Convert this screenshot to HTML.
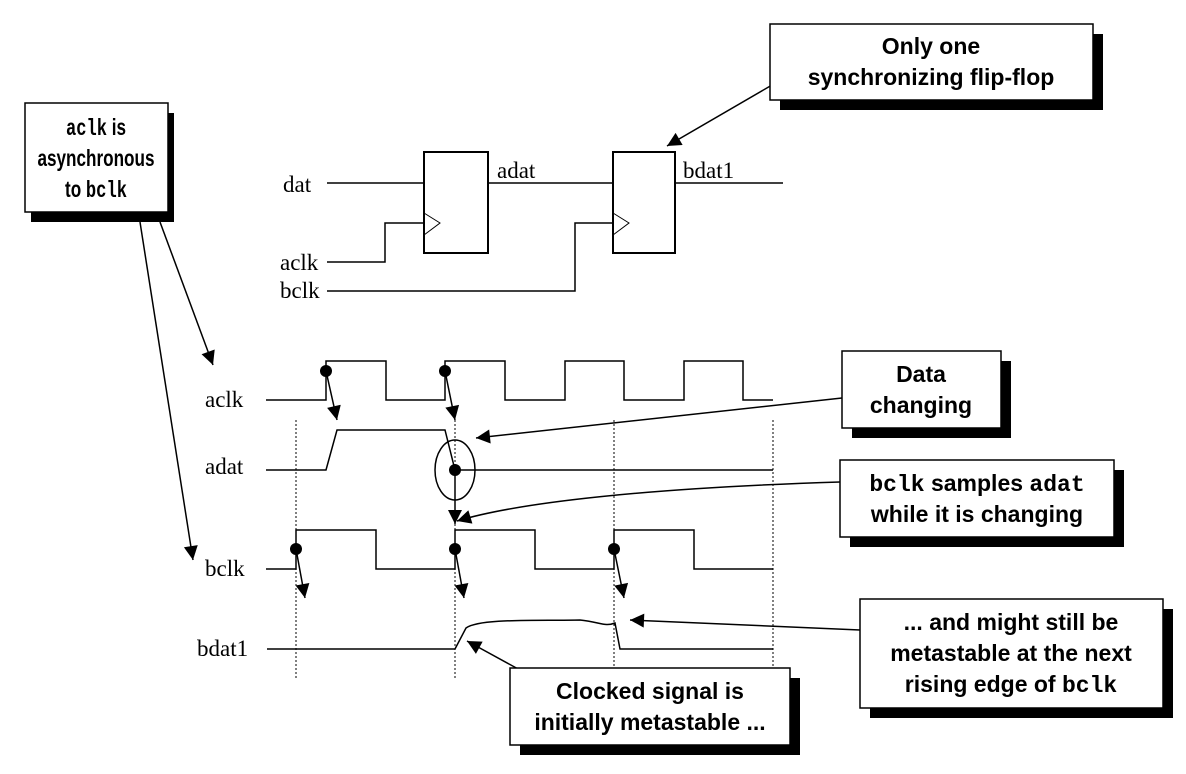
<!DOCTYPE html>
<html><head><style>body{margin:0;background:#fff}svg{display:block}
.b{font-family:"Liberation Sans",sans-serif;font-weight:bold;font-size:23px}
.m{font-family:"Liberation Mono",monospace;font-weight:bold}
.s{font-family:"Liberation Serif",serif;font-size:23px}</style></head><body>
<svg width="1186" height="774" viewBox="0 0 1186 774" xmlns="http://www.w3.org/2000/svg">
<defs><marker id="a2" viewBox="0 0 10 10" refX="10" refY="5" markerWidth="17" markerHeight="14" markerUnits="userSpaceOnUse" orient="auto"><path d="M0,0L10,5L0,10z" fill="#000"/></marker></defs>
<g fill="none" stroke="#000" stroke-width="1.5">
<rect x="424" y="152" width="64" height="101" stroke-width="2"/>
<rect x="613" y="152" width="62" height="101" stroke-width="2"/>
<path d="M424,213L440,223L424,235M613,213L629,223L613,235" stroke-width="1"/>
<path d="M327,183H424M488,183H613M675,183H783M327,262H385V223H424M327,291H575V223H613"/>
<path d="M266,400H326V361H386V400H445V361H505V400H565V361H624V400H684V361H743V400H773"/>
<path d="M266,470H326L337,430H445L455,470H773"/>
<path d="M266,569H296V530H376V569H455V530H535V569H614V530H694V569H773"/>
<path d="M267,649H455L466,628C480,618 540,621 580,620C600,622 605,627 615,623L620,649H773"/>
<g stroke-width="1" stroke-dasharray="2,2"><path d="M296,420V678M455,420V678M614,420V678M773,420V678"/></g>
<ellipse cx="455" cy="470" rx="20" ry="30" stroke-width="1.5"/>
<g stroke-width="1.5" marker-end="url(#a2)">
<path d="M326,371L337,420"/><path d="M445,371L455,420"/><path d="M455,470V524"/>
<path d="M296,549L305,598"/><path d="M455,549L464,598"/><path d="M614,549L624,598"/>
<path d="M160,222L213,365"/><path d="M140,222L193,560"/>
<path d="M772,85L667,146"/><path d="M842,398L476,438"/>
<path d="M840,482C650,488 520,502 457,521"/>
<path d="M860,630L630,620"/><path d="M520,670L467,641"/>
</g>
</g>
<g fill="#000"><circle cx="326" cy="371" r="6"/><circle cx="445" cy="371" r="6"/><circle cx="455" cy="470" r="6"/><circle cx="296" cy="549" r="6"/><circle cx="455" cy="549" r="6"/><circle cx="614" cy="549" r="6"/></g>
<g class="s"><text x="283" y="192">dat</text><text x="497" y="178">adat</text><text x="683" y="178">bdat1</text>
<text x="280" y="270">aclk</text><text x="280" y="298">bclk</text>
<text x="205" y="407">aclk</text><text x="205" y="474">adat</text><text x="205" y="576">bclk</text><text x="197" y="656">bdat1</text></g>
<g><rect x="31" y="113" width="143" height="109"/><rect x="25" y="103" width="143" height="109" fill="#fff" stroke="#000" stroke-width="1.5"/>
<rect x="780" y="34" width="323" height="76"/><rect x="770" y="24" width="323" height="76" fill="#fff" stroke="#000" stroke-width="1.5"/>
<rect x="852" y="361" width="159" height="77"/><rect x="842" y="351" width="159" height="77" fill="#fff" stroke="#000" stroke-width="1.5"/>
<rect x="850" y="470" width="274" height="77"/><rect x="840" y="460" width="274" height="77" fill="#fff" stroke="#000" stroke-width="1.5"/>
<rect x="870" y="609" width="303" height="109"/><rect x="860" y="599" width="303" height="109" fill="#fff" stroke="#000" stroke-width="1.5"/>
<rect x="520" y="678" width="280" height="77"/><rect x="510" y="668" width="280" height="77" fill="#fff" stroke="#000" stroke-width="1.5"/></g>
<g class="b" text-anchor="middle">
<text x="96" y="135" textLength="60" lengthAdjust="spacingAndGlyphs"><tspan class="m">aclk</tspan> is</text>
<text x="96" y="166" textLength="117" lengthAdjust="spacingAndGlyphs">asynchronous</text>
<text x="96" y="197" textLength="62" lengthAdjust="spacingAndGlyphs">to <tspan class="m">bclk</tspan></text>
<text x="931" y="54">Only one</text><text x="931" y="85">synchronizing flip-flop</text>
<text x="921" y="382">Data</text><text x="921" y="413">changing</text>
<text x="977" y="491"><tspan class="m">bclk</tspan> samples <tspan class="m">adat</tspan></text><text x="977" y="522">while it is changing</text>
<text x="1011" y="630">... and might still be</text><text x="1011" y="661">metastable at the next</text><text x="1011" y="692">rising edge of <tspan class="m">bclk</tspan></text>
<text x="650" y="699">Clocked signal is</text><text x="650" y="730">initially metastable ...</text>
</g>
</svg></body></html>
